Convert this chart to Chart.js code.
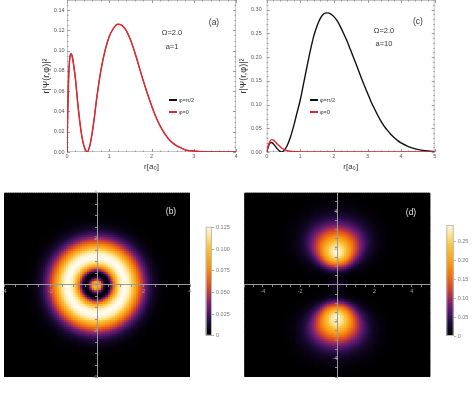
<!DOCTYPE html>
<html>
<head>
<meta charset="utf-8">
<script src="https://cdn.jsdelivr.net/npm/chart.js@4"></script>
<style>
  body { margin: 0; background: #fff; width: 474px; height: 397px; position: relative; overflow: hidden;
         font-family: "Liberation Sans", Arial, sans-serif; }
  canvas { position: absolute; }
  .t { position: absolute; transform: translate(-50%, -50%); white-space: nowrap; color: #333; }
  .leg { position: absolute; transform: translateY(-50%); font-size: 5.5px; color: #333; display: flex; align-items: center; white-space: nowrap; }
  .leg i { display: inline-block; width: 8px; height: 1.5px; margin-right: 2px; }
</style>
</head>
<body>
<canvas id="chartA" width="240" height="187" style="left:0;top:-10px"></canvas>
<canvas id="chartC" width="208" height="187" style="left:232px;top:-10px"></canvas>
<canvas id="heatB" width="206" height="210" style="left:-6px;top:180px"></canvas>
<canvas id="heatD" width="206" height="210" style="left:234px;top:180px"></canvas>
<canvas id="barB" width="38" height="132" style="left:199px;top:214px"></canvas>
<canvas id="barD" width="34" height="135" style="left:440px;top:213px"></canvas>

<div class="t" style="left:214px;top:22px;font-size:8.5px">(a)</div>
<div class="t" style="left:172px;top:32px;font-size:7.5px">Ω=2.0</div>
<div class="t" style="left:172px;top:46px;font-size:7.5px">a=1</div>
<div class="leg" style="left:169px;top:100px"><i style="background:#111"></i>φ=π/2</div>
<div class="leg" style="left:169px;top:112px"><i style="background:#e3262e"></i>φ=0</div>

<div class="t" style="left:418px;top:21px;font-size:8.5px">(c)</div>
<div class="t" style="left:384px;top:30px;font-size:7.5px">Ω=2.0</div>
<div class="t" style="left:384px;top:43px;font-size:7.5px">a=10</div>
<div class="leg" style="left:310px;top:100px"><i style="background:#111"></i>φ=π/2</div>
<div class="leg" style="left:310px;top:112px"><i style="background:#e3262e"></i>φ=0</div>

<div class="t" style="left:171px;top:211px;font-size:8.5px;color:#e6e6e6">(b)</div>
<div class="t" style="left:411px;top:212px;font-size:8.5px;color:#e6e6e6">(d)</div>

<script>
// (a) Ω=2.0, a=1 : radial density, φ=π/2 and φ=0 lie on top of each other
const rA = [0, 0.02, 0.04, 0.06, 0.08, 0.1, 0.12, 0.15, 0.2, 0.25, 0.3, 0.35, 0.4, 0.45, 0.47,
  0.5, 0.55, 0.6, 0.65, 0.7, 0.8, 0.9, 1.0, 1.1, 1.2, 1.3, 1.4, 1.5, 1.6, 1.7, 1.8, 1.9, 2.0,
  2.1, 2.2, 2.3, 2.4, 2.5, 2.6, 2.7, 2.8, 3.0, 3.2, 3.5, 4.0];
const densA = [0, 0.045, 0.075, 0.090, 0.096, 0.097, 0.095, 0.088, 0.072, 0.050, 0.031, 0.016, 0.006, 0.001, 0,
  0.001, 0.008, 0.020, 0.035, 0.052, 0.080, 0.100, 0.114, 0.122, 0.126, 0.125, 0.120, 0.111, 0.099, 0.085, 0.071, 0.058, 0.046,
  0.035, 0.026, 0.019, 0.013, 0.009, 0.006, 0.004, 0.002, 0.001, 0.0003, 0, 0];

// (c) Ω=2.0, a=10
const rC = [0, 0.05, 0.1, 0.15, 0.2, 0.3, 0.4, 0.45, 0.5, 0.6, 0.7, 0.8, 0.9, 1.0,
  1.1, 1.2, 1.3, 1.4, 1.5, 1.6, 1.7, 1.8, 1.9, 2.0, 2.1, 2.2, 2.3, 2.4, 2.5, 2.6, 2.7, 2.8, 2.9, 3.0,
  3.1, 3.2, 3.3, 3.4, 3.5, 3.6, 3.7, 3.8, 3.9, 4.0, 4.2, 4.4, 4.6, 4.8, 5.0];
const densC_halfPi = [0, 0.012, 0.019, 0.020, 0.017, 0.008, 0.001, 0, 0.002, 0.012, 0.030, 0.054, 0.082, 0.110,
  0.145, 0.180, 0.214, 0.244, 0.266, 0.282, 0.291, 0.293, 0.291, 0.285, 0.276, 0.263, 0.248, 0.232, 0.214, 0.196, 0.178, 0.159, 0.141, 0.124,
  0.107, 0.092, 0.078, 0.065, 0.054, 0.045, 0.037, 0.030, 0.024, 0.019, 0.012, 0.007, 0.004, 0.002, 0.001];
const densC_zero = [0, 0.014, 0.023, 0.026, 0.025, 0.018, 0.011, 0.008, 0.006, 0.003, 0.0015, 0.0007, 0.0004, 0.0002,
  0.0001, 0, 0, 0, 0, 0, 0, 0, 0, 0, 0, 0, 0, 0, 0, 0, 0, 0, 0, 0,
  0, 0, 0, 0, 0, 0, 0, 0, 0, 0, 0, 0, 0, 0, 0];

// (d) how much of the φ=π/2 profile shows, by angle away from the vertical axis (degrees)
const angD = [0, 10, 20, 30, 40, 50, 60, 75, 90];
const weightD = [1, 0.9, 0.7, 0.42, 0.18, 0.06, 0.015, 0.002, 0];

// colour bar ranges
const maxB = 0.126, maxD = 0.295;
const stepB = 0.025, stepD = 0.05;

const RED = "#e3262e", BLACK = "#111111";
const STEP = 0.1; // heatmap cell size in a0

Chart.defaults.font.family = "'Liberation Sans', Arial, sans-serif";
Chart.defaults.font.size = 5.5;
Chart.defaults.color = "#555";
Chart.defaults.animation = false;

const CMAP = [
  [0.00, "#000000"], [0.10, "#1a0a33"], [0.20, "#4a1668"], [0.30, "#85246a"],
  [0.40, "#c73f38"], [0.50, "#ea6418"], [0.60, "#f58a10"], [0.70, "#f9a824"],
  [0.80, "#fcc23d"], [0.90, "#fde48f"], [1.00, "#fffbf0"]
].map(([t, h]) => [t, [1, 3, 5].map(k => parseInt(h.slice(k, k + 2), 16))]);

function heatColor(t) {
  t = Math.max(0, Math.min(1, t));
  let i = 1;
  while (i < CMAP.length - 1 && CMAP[i][0] < t) i++;
  const [t0, c0] = CMAP[i - 1], [t1, c1] = CMAP[i];
  const f = (t - t0) / (t1 - t0);
  return "rgb(" + c0.map((c, k) => Math.round(c + f * (c1[k] - c))).join(",") + ")";
}

function profileAt(xs, vs, x) {
  if (x >= xs[xs.length - 1]) return vs[vs.length - 1];
  let i = 1;
  while (xs[i] < x) i++;
  const f = (x - xs[i - 1]) / (xs[i] - xs[i - 1]);
  return vs[i - 1] + f * (vs[i] - vs[i - 1]);
}

// light frame with inward ticks (Mathematica style)
function drawFrame(chart, o) {
  const { ctx, chartArea: a, scales } = chart;
  ctx.save();
  ctx.lineWidth = 1;
  ctx.strokeStyle = o.color || "#c4c4c4";
  ctx.strokeRect(a.left + 0.5, a.top + 0.5, a.width - 1, a.height - 1);
  if (o.xMinor) {
    const sx = scales.x, sy = scales.y;
    ctx.strokeStyle = "#9a9a9a";
    ctx.beginPath();
    const nx = Math.round((sx.max - sx.min) / o.xMinor);
    for (let i = 0; i <= nx; i++) {
      const px = Math.round(sx.getPixelForValue(sx.min + i * o.xMinor)) + 0.5;
      const len = i % o.xEvery === 0 ? 3 : 1.5;
      ctx.moveTo(px, a.bottom); ctx.lineTo(px, a.bottom - len);
      ctx.moveTo(px, a.top); ctx.lineTo(px, a.top + len);
    }
    const ny = Math.floor((sy.max - sy.min) / o.yMinor + 1e-6);
    for (let j = 0; j <= ny; j++) {
      const py = Math.round(sy.getPixelForValue(sy.min + j * o.yMinor)) + 0.5;
      const len = j % o.yEvery === 0 ? 3 : 1.5;
      ctx.moveTo(a.left, py); ctx.lineTo(a.left + len, py);
      ctx.moveTo(a.right, py); ctx.lineTo(a.right - len, py);
    }
    ctx.stroke();
  }
  ctx.restore();
}

const framePlugin = {
  id: "frame",
  beforeDatasetsDraw(chart, args, o) { if (!o.after) drawFrame(chart, o); },
  afterDatasetsDraw(chart, args, o) { if (o.after) drawFrame(chart, o); },
};

function curve(xs, ys, color, width = 1.4) {
  return {
    data: xs.map((x, i) => ({ x, y: ys[i] })),
    showLine: true,
    borderColor: color,
    borderWidth: width,
    pointRadius: 0,
    cubicInterpolationMode: "monotone",
  };
}

// first dataset is drawn on top
function makeLineChart(id, datasets, o) {
  return new Chart(document.getElementById(id), {
    type: "scatter",
    data: { datasets },
    options: {
      responsive: false,
      events: [],
      layout: { padding: o.padding },
      plugins: { legend: { display: false }, tooltip: { enabled: false }, frame: o.frame },
      scales: {
        x: {
          type: "linear", min: 0, max: o.xMax,
          grid: { display: false, drawTicks: false }, border: { display: false },
          ticks: { stepSize: 1, padding: 1.5, color: "#555" },
          title: { display: true, text: "r[a₀]", font: { size: 8 }, color: "#333", padding: { top: 0, bottom: 5.5 } },
          afterFit: (s) => { s.height = 25; },
        },
        y: {
          min: 0, max: o.yMax,
          grid: { display: false, drawTicks: false }, border: { display: false },
          ticks: { stepSize: o.yStep, includeBounds: false, padding: o.yTickPad, color: "#555",
                   callback: (v) => v.toFixed(2) },
          title: { display: true, text: "r|Ψ(r,φ)|²", font: { size: 9 }, color: "#333", padding: { top: 2, bottom: 0 } },
          afterFit: (s) => { s.width = o.yAxisW; },
        },
      },
    },
    plugins: [framePlugin],
  });
}

makeLineChart("chartA", [curve(rA, densA, RED, 1.5), curve(rA, densA, BLACK, 0.8)], {
  padding: { left: 39.6, right: 4, top: 10, bottom: 0 },
  xMax: 4, yMax: 0.15, yStep: 0.02, yTickPad: 2.5, yAxisW: 27.4,
  frame: { xMinor: 0.2, xEvery: 5, yMinor: 0.005, yEvery: 4 },
});

makeLineChart("chartC", [curve(rC, densC_zero, RED), curve(rC, densC_halfPi, BLACK)], {
  padding: { left: 4.6, right: 5.3, top: 10, bottom: 0 },
  xMax: 5, yMax: 0.32, yStep: 0.05, yTickPad: 5, yAxisW: 30.1,
  frame: { xMinor: 0.2, xEvery: 5, yMinor: 0.01, yEvery: 5 },
});

function buildCells(L, valueAt, vmax) {
  const pts = [], colors = [];
  const n = Math.round(2 * L / STEP);
  for (let i = 0; i < n; i++) {
    for (let j = 0; j < n; j++) {
      const x = -L + (i + 0.5) * STEP, y = -L + (j + 0.5) * STEP;
      pts.push({ x, y });
      colors.push(heatColor(valueAt(x, y) / vmax));
    }
  }
  return { pts, colors };
}

function crossAxis(L, at) {
  return {
    type: "linear", min: -L, max: L, position: at,
    grid: { display: true, drawOnChartArea: false, drawTicks: true, tickLength: 2, color: "#8c8c8c", z: 1 },
    border: { display: true, color: "#9a9a9a", width: 1, z: 1 },
    ticks: {
      z: 1, stepSize: 0.5, autoSkip: false, maxRotation: 0, padding: 1.5, color: "#a8a8a8",
      callback: (v) => (v !== 0 && Math.abs(v % 2) < 1e-9 ? String(v) : ""),
    },
  };
}

function makeHeatmap(id, L, cells, padding) {
  return new Chart(document.getElementById(id), {
    type: "scatter",
    data: {
      datasets: [{
        data: cells.pts,
        backgroundColor: cells.colors,
        pointStyle: "rect",
        borderWidth: 0,
        hoverRadius: 0,
        pointRadius: (c) => {
          const s = c.chart.scales.x;
          return Math.abs(s.getPixelForValue(STEP) - s.getPixelForValue(0)) / Math.SQRT2 + 0.9;
        },
      }],
    },
    options: {
      responsive: false,
      events: [],
      layout: { padding },
      plugins: { legend: { display: false }, tooltip: { enabled: false } },
      scales: { x: crossAxis(L, { y: 0 }), y: crossAxis(L, { x: 0 }) },
    },
  });
}

const cellsB = buildCells(4, (x, y) => profileAt(rA, densA, Math.hypot(x, y)), maxB);
makeHeatmap("heatB", 4, cellsB, { left: 10, right: 10, top: 12.7, bottom: 13 });

const cellsD = buildCells(5, (x, y) => {
  const r = Math.hypot(x, y);
  const ang = Math.atan2(Math.abs(x), Math.abs(y)) * 180 / Math.PI;
  const w = profileAt(angD, weightD, ang);
  return w * profileAt(rC, densC_halfPi, r) + (1 - w) * profileAt(rC, densC_zero, r);
}, maxD);
makeHeatmap("heatD", 5, cellsD, { left: 10.3, right: 9.7, top: 12.7, bottom: 13 });

function makeColorBar(id, vmax, step, fmt, padding, axisW) {
  const nSeg = 64;
  const datasets = [];
  for (let k = 0; k < nSeg; k++) {
    const lo = vmax * k / nSeg, hi = vmax * (k + 1.4) / nSeg;
    datasets.push({
      data: [[lo, Math.min(hi, vmax)]],
      backgroundColor: heatColor((k + 0.5) / nSeg),
      borderWidth: 0, barPercentage: 1, categoryPercentage: 1, grouped: false,
    });
  }
  return new Chart(document.getElementById(id), {
    type: "bar",
    data: { labels: [""], datasets },
    options: {
      responsive: false,
      events: [],
      layout: { padding },
      plugins: { legend: { display: false }, tooltip: { enabled: false }, frame: { color: "#bbbbbb", after: true } },
      scales: {
        x: { display: false },
        y: {
          position: "right", min: 0, max: vmax,
          grid: { display: true, drawOnChartArea: false, tickLength: 2, color: "#aaaaaa" },
          border: { display: false },
          ticks: { stepSize: step, includeBounds: false, padding: 2, color: "#777", callback: fmt },
          afterFit: (s) => { s.width = axisW; },
        },
      },
    },
    plugins: [framePlugin],
  });
}

makeColorBar("barB", maxB, stepB, (v) => (v === 0 ? "0" : v.toFixed(3)),
  { left: 6.7, right: 5, top: 12.7, bottom: 10.3 }, 20);
makeColorBar("barD", maxD, stepD, (v) => (v === 0 ? "0" : v.toFixed(2)),
  { left: 6.3, right: 4.3, top: 12, bottom: 12 }, 16);
</script>
</body>
</html>
